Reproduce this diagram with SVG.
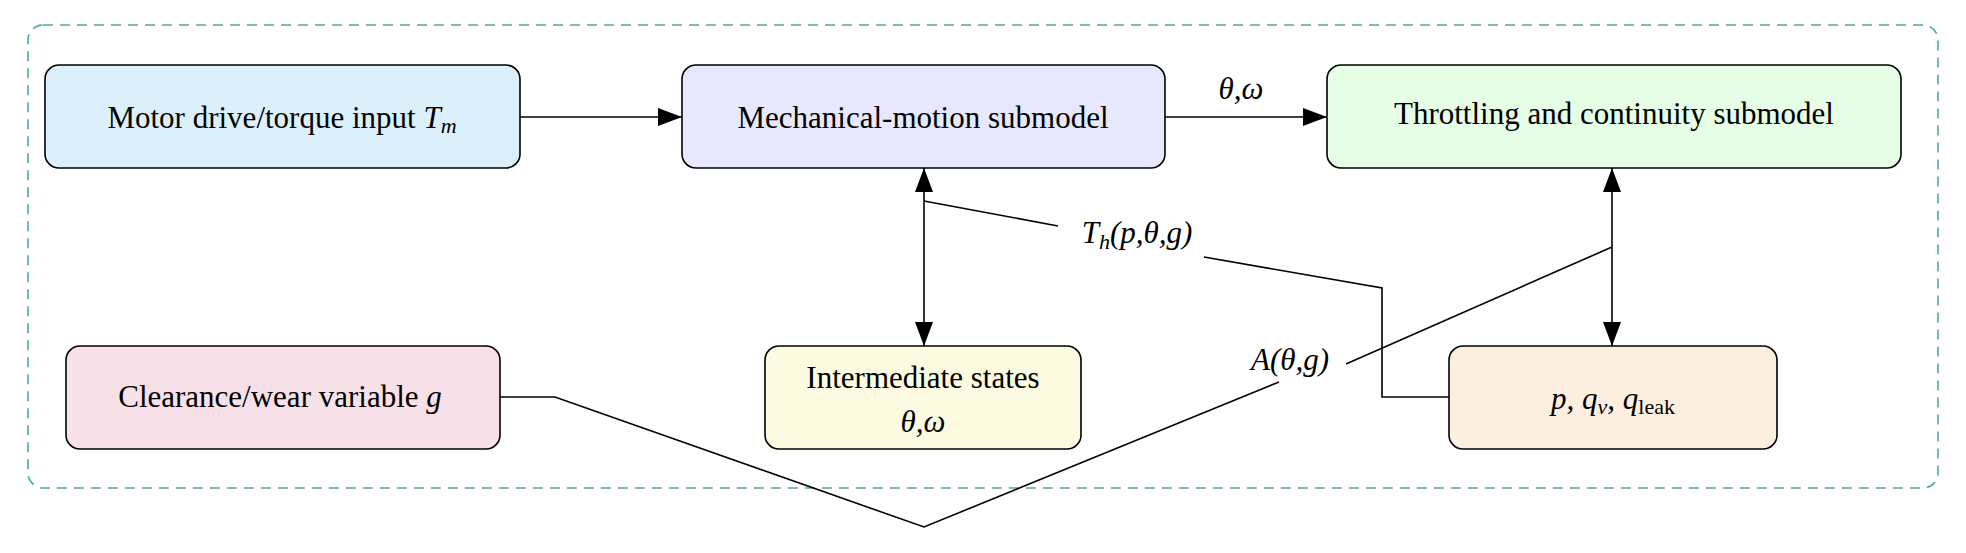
<svg xmlns="http://www.w3.org/2000/svg" width="1966" height="553" viewBox="0 0 1966 553">
<style>
.n{stroke:#000;stroke-width:1.6}
text{font-family:"Liberation Serif","DejaVu Serif",serif;font-size:31px;fill:#000}
.i{font-style:italic}
.c{fill:none;stroke:#000;stroke-width:1.6}
</style>
<defs>
<marker id="a" viewBox="0 0 24 18" refX="24" refY="9" markerWidth="24" markerHeight="18" markerUnits="userSpaceOnUse" orient="auto-start-reverse"><path d="M0,0L24,9L0,18z" fill="#000"/></marker>
</defs>
<rect x="28" y="25" width="1910" height="463" rx="15" fill="none" stroke="#4aaaa5" stroke-width="1.6" stroke-dasharray="10,7"/>
<g id="motor"><rect class="n" x="45" y="65" width="475" height="103" rx="14" fill="#dcf0fb"/><text x="282" y="128" text-anchor="middle">Motor drive/torque input <tspan class="i">T</tspan><tspan class="i" font-size="22" dy="5">m</tspan></text></g>
<g id="mech"><rect class="n" x="682" y="65" width="483" height="103" rx="14" fill="#e7e8fd"/><text x="923" y="128" text-anchor="middle">Mechanical-motion submodel</text></g>
<g id="throttle"><rect class="n" x="1327" y="65" width="574" height="103" rx="14" fill="#e6fde6"/><text x="1614" y="124" text-anchor="middle">Throttling and continuity submodel</text></g>
<g id="clear"><rect class="n" x="66" y="346" width="434" height="103" rx="14" fill="#f7e0e8"/><text x="280" y="407" text-anchor="middle">Clearance/wear variable <tspan class="i">g</tspan></text></g>
<g id="inter"><rect class="n" x="765" y="346" width="316" height="103" rx="14" fill="#fcfbe2"/><text x="923" y="388" text-anchor="middle">Intermediate states</text><text x="923" y="432" text-anchor="middle" class="i">θ,ω</text></g>
<g id="state"><rect class="n" x="1449" y="346" width="328" height="103" rx="14" fill="#fdefe0"/><text x="1613" y="409" text-anchor="middle" class="i">p, q<tspan font-size="22" dy="5">v</tspan><tspan dy="-5">, q</tspan><tspan font-size="22" dy="5" font-style="normal">leak</tspan></text></g>
<g id="connectors">
<line class="c" x1="520" y1="117" x2="682" y2="117" marker-end="url(#a)"/>
<line class="c" x1="1165" y1="117" x2="1327" y2="117" marker-end="url(#a)"/>
<text x="1241" y="99" text-anchor="middle" class="i">θ,ω</text>
<line class="c" x1="924" y1="168" x2="924" y2="346" marker-start="url(#a)" marker-end="url(#a)"/>
<line class="c" x1="1612" y1="168" x2="1612" y2="346" marker-start="url(#a)" marker-end="url(#a)"/>
<polyline class="c" points="924,201 1058,226"/>
<polyline class="c" points="1204,257 1382,288 1382,397 1449,397"/>
<text x="1137" y="243" text-anchor="middle" class="i">T<tspan font-size="22" dy="6">h</tspan><tspan dy="-6">(p,θ,g)</tspan></text>
<polyline class="c" points="1612,247 1346,364"/>
<polyline class="c" points="1279,382 924,527 555,397 500,397"/>
<text x="1290" y="370" text-anchor="middle" class="i">A(θ,g)</text>
</g>
</svg>
